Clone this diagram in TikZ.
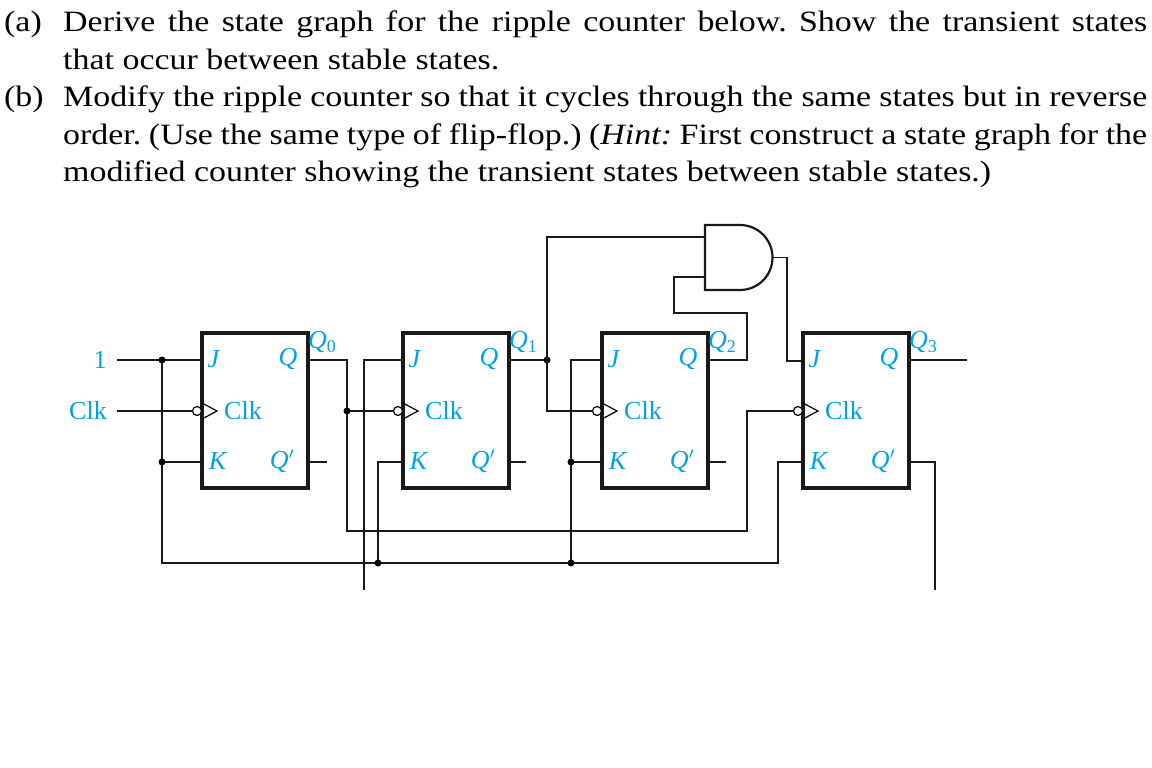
\documentclass[tikz,border=0pt]{standalone}
\usepackage{fontspec}
\setmainfont{Liberation Serif}
\newfontfamily\wide[FakeStretch=1.15]{Liberation Serif}
\definecolor{cy}{RGB}{0,160,227}
\begin{document}
\frenchspacing
\begin{tikzpicture}[x=1pt,y=-1pt,
  w/.style={line width=1.8pt,black!90},
  ff/.style={line width=3.6pt,black!90},
  lab/.style={text=cy,font=\fontsize{26}{28}\selectfont,inner sep=0pt},
  dot/.style={circle,fill=black,inner sep=0pt,minimum size=7pt},
  para/.style={anchor=north west,inner sep=0pt,text width=1084pt,align=justify,font=\wide\fontsize{29.5}{37.5}\selectfont}]
\useasboundingbox (0,0) rectangle (1152,768);
% text
\node[anchor=north west,inner sep=0pt,font=\wide\fontsize{29.5}{37.5}\selectfont] at (4,11) {(a)};
\node[para] at (63,11)
 {Derive the state graph for the ripple counter below. Show the transient states\linebreak that occur between stable states.};
\node[anchor=north west,inner sep=0pt,font=\wide\fontsize{29.5}{37.5}\selectfont] at (4,86) {(b)};
\node[para] at (63,86)
 {Modify the ripple counter so that it cycles through the same states but in reverse\linebreak order. (Use the same type of flip-flop.) (\textit{Hint:} First construct a state graph for the\linebreak modified counter showing the transient states between stable states.)};
% flip-flops
\foreach \i/\x in {0/202,1/403,2/602,3/803}{
  \draw[ff] (\x,333) rectangle (\x+106,488);
  \draw[line width=1.2pt] (\x,403) -- (\x+15,411) -- (\x,419);
  \draw[line width=1.2pt,fill=white] (\x-5,411) circle (4.5);
  \node[lab] at (\x+12,359) {\textit{J}};
  \node[lab] at (\x+86,359) {\textit{Q}};
  \node[lab,anchor=west] at (\x+22,411) {Clk};
  \node[lab] at (\x+16,461) {\textit{K}};
  \node[lab] at (\x+80,461) {\textit{Q}$'$};
  \node[lab,anchor=west] at (\x+106,342) {\textit{Q}\raisebox{-4pt}{\fontsize{18}{18}\selectfont\i}};
}
\node[lab] (one) at (100,360) {1};
\node[lab] (clk) at (88,411) {Clk};
% FF0 inputs
\draw[w] (117,360) -- (202,360);
\draw[w] (117,411) -- (193,411);
\draw[w] (162,360) -- (162,563) -- (778,563) -- (778,462) -- (803,462);
\draw[w] (162,462) -- (202,462);
\node[dot] at (162,360) {}; \node[dot] at (162,462) {};
% Q0
\draw[w] (309,360) -- (347,360) -- (347,531) -- (747,531) -- (747,411) -- (793.5,411);
\draw[w] (347,411) -- (393.5,411);
\node[dot] at (347,411) {};
\draw[w] (309,462) -- (327,462);
% FF1 J,K
\draw[w] (403,360) -- (364,360) -- (364,590);
\draw[w] (403,462) -- (378,462) -- (378,563);
\node[dot] at (378,563) {};
\draw[w] (508,462) -- (526,462);
% AND gate
\draw[line width=2.2pt,black!90] (705,225) -- (740,225) arc[start angle=-90,end angle=90,radius=32.5] -- (705,290) -- cycle;
\coordinate (gout) at (772.5,257.5);
\draw[w] (508,360) -- (547,360);
\node[dot] at (547,360) {};
\draw[w] (705,237) -- (547,237) -- (547,411) -- (592.5,411);
% FF2 J,K
\draw[w] (602,360) -- (571,360) -- (571,563);
\draw[w] (571,462) -- (602,462);
\node[dot] at (571,462) {}; \node[dot] at (571,563) {};
\draw[w] (708,462) -- (726,462);
\draw[w] (708,360) -- (747,360) -- (747,313) -- (674,313) -- (674,277) -- (705,277);
\draw[w] (gout) -- (787,257.5) -- (787,361) -- (803,361);
% FF3 outputs
\draw[w] (909,360) -- (967,360);
\draw[w] (909,462) -- (935,462) -- (935,590);
\end{tikzpicture}
\end{document}
